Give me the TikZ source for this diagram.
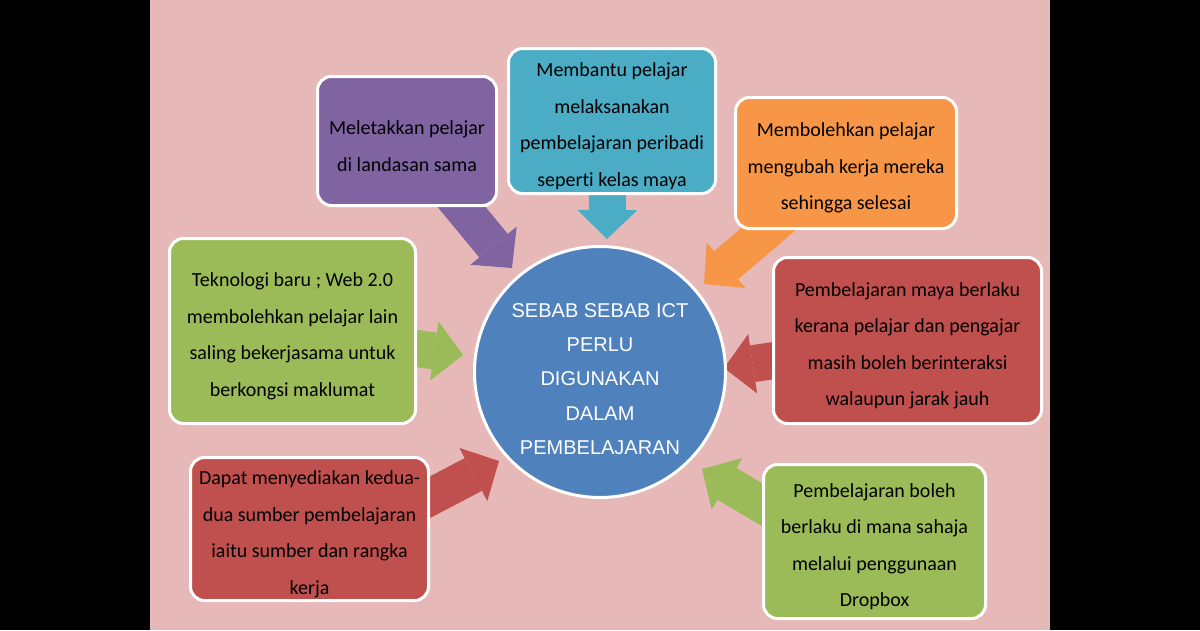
\documentclass[tikz,border=0pt]{standalone}
\usepackage{fontspec}
\setmainfont{Carlito}[Ligatures=NoCommon]
\newfontfamily\arialfont{Liberation Sans}
\usetikzlibrary{positioning}
\usetikzlibrary{calc}
\usetikzlibrary{arrows.meta}
\pgfdeclarelayer{back}
\pgfdeclarelayer{links}
\pgfsetlayers{back,links,main}
\definecolor{bgpink}{HTML}{E6B9B8}
\definecolor{hubblue}{HTML}{4F81BD}
\definecolor{boxpurple}{HTML}{8064A2}
\definecolor{boxteal}{HTML}{4BACC6}
\definecolor{boxorange}{HTML}{F79646}
\definecolor{boxred}{HTML}{C0504D}
\definecolor{boxgreen}{HTML}{9BBB59}
% strut on the first line pushes the text down a little
\newcommand{\topgap}[1][24pt]{\rule{0pt}{#1}}

\begin{document}
\begin{tikzpicture}[x=1pt,y=-1pt]
		\tikzset{box/.style = {shape=rectangle,rounded corners=14pt,draw=white,line width=3pt,inner sep=0pt,align=center,font=\fontsize{20pt}{36.5pt}\selectfont}}
		\tikzset{hub/.style = {shape=circle,draw=white,line width=3pt,fill=hubblue,minimum size=251pt,inner sep=0pt,align=center,text=white,font=\arialfont\fontsize{20pt}{34.3pt}\selectfont}}
		\tikzset{edge/.style = {line width=37pt,-{Triangle[length=29pt,width=60pt,line width=0pt]}}}
		% background
		\useasboundingbox (0,0) rectangle (1200,630);
		\begin{pgfonlayer}{back}
		\fill[black] (0,0) rectangle (1200,630);
		\fill[bgpink] (150,0) rectangle (1050,630);
		\end{pgfonlayer}
		
		% vertices
		\node[hub] (ict) at (600,372) {\topgap[28pt]SEBAB SEBAB ICT\\PERLU\\DIGUNAKAN\\DALAM\\PEMBELAJARAN};
		
		\node[box,fill=boxpurple,minimum width=179pt,minimum height=129pt] (a) at (407,141) {\topgap Meletakkan pelajar\\di landasan sama};
		\node[box,fill=boxteal,minimum width=207pt,minimum height=145pt] (b) at (612,121) {\topgap Membantu pelajar\\melaksanakan\\pembelajaran peribadi\\seperti kelas maya};
		\node[box,fill=boxorange,minimum width=221pt,minimum height=131pt] (c) at (846,163) {\topgap Membolehkan pelajar\\mengubah kerja mereka\\sehingga selesai};
		\node[box,fill=boxred,minimum width=268pt,minimum height=166pt] (d) at (907.5,340.5) {\topgap Pembelajaran maya berlaku\\kerana pelajar dan pengajar\\masih boleh berinteraksi\\walaupun jarak jauh};
		\node[box,fill=boxgreen,minimum width=222pt,minimum height=154pt] (e) at (874.5,541.5) {\topgap Pembelajaran boleh\\berlaku di mana sahaja\\melalui penggunaan\\Dropbox};
		\node[box,fill=boxred,minimum width=238pt,minimum height=143pt] (f) at (309.5,529) {\topgap Dapat menyediakan kedua-\\dua sumber pembelajaran\\iaitu sumber dan rangka\\kerja};
		\node[box,fill=boxgreen,minimum width=246pt,minimum height=185pt] (g) at (292.5,331) {\topgap Teknologi baru ; Web 2.0\\membolehkan pelajar lain\\saling bekerjasama untuk\\berkongsi maklumat};
		
		% arrow tips
		\coordinate (ta) at (512,268);
		\coordinate (tb) at (607,239);
		\coordinate (tc) at (704,284);
		\coordinate (td) at (724,368);
		\coordinate (te) at (702,469);
		\coordinate (tf) at (499,461);
		\coordinate (tg) at (463,355);
		
		%edges
		\begin{pgfonlayer}{links}
		\draw[edge,boxpurple] (a.center) -- (ta);
		\draw[edge,boxteal] ([xshift=-4pt]b.center) -- (tb);
		\draw[edge,boxorange] (c.center) -- (tc);
		\draw[edge,boxred] (d.center) -- (td);
		\draw[edge,boxgreen] ([shift={(-20,18)}]e.center) -- (te);
		\draw[edge,boxred] ([shift={(18,22)}]f.center) -- (tf);
		\draw[edge,boxgreen] (g.center) -- (tg);
		\end{pgfonlayer}
\end{tikzpicture}
\end{document}
